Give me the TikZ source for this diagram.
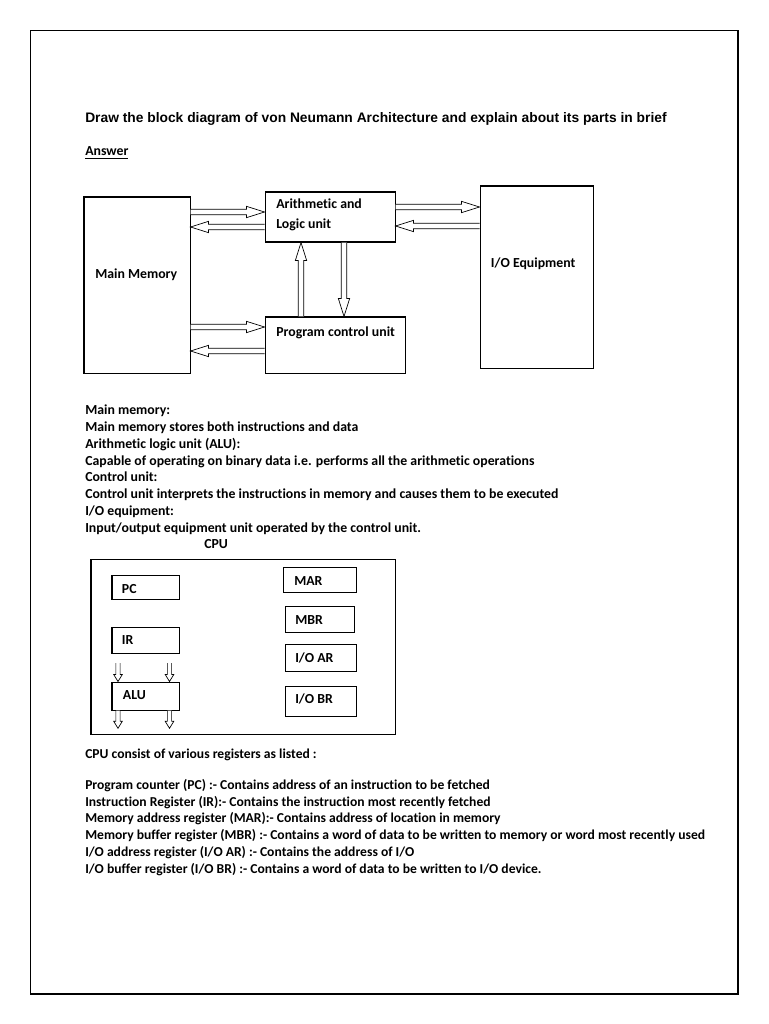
\documentclass[tikz,border=0pt]{standalone}
\usepackage{fontspec}
\setmainfont{Carlito}[Ligatures=NoCommon]
\newfontfamily\arialfont{Liberation Sans}
\usetikzlibrary{calc,fit}

\tikzset{
  box/.style={draw, line width=0.8pt, inner sep=0pt},
  lbl/.style={anchor=base west, inner sep=0pt, font=\bfseries\fontsize{11}{13}\selectfont},
  lbs/.style={anchor=base west, inner sep=0pt, font=\bfseries\fontsize{10.85}{13}\selectfont},
  ttl/.style={anchor=base west, inner sep=0pt, font=\arialfont\bfseries\fontsize{11}{13}\selectfont},
  arrowline/.style={draw, fill=white, line width=0.55pt, line join=miter},
}

\newcommand\blkarrow[5]{%
  \path #1 coordinate (baA) #2 coordinate (baB);
  \coordinate (baH) at ($(baB)!#5!(baA)$);
  \draw[arrowline] ($(baA)!#3!90:(baB)$) -- ($(baH)!#3!90:(baB)$) -- ($(baH)!#4!90:(baB)$) -- (baB) -- ($(baH)!#4!-90:(baB)$) -- ($(baH)!#3!-90:(baB)$) -- ($(baA)!#3!-90:(baB)$);}
\newcommand\bigarrow[2]{\blkarrow{#1}{#2}{2.19pt}{4.5pt}{14.34pt}}
\newcommand\smallarrow[2]{\blkarrow{#1}{#2}{1.71pt}{3.43pt}{5.58pt}}

\begin{document}
\begin{tikzpicture}[x=0.7969pt, y=-0.7969pt]
\useasboundingbox (0,0) rectangle (768,1024);
\node[draw, line width=1pt, inner sep=0pt, fit={(30.5,30.5) (738,994)}] (page) {};

% title
\node[ttl] (title) at (85,123) {Draw the block diagram of von Neumann Architecture and explain about its parts in brief};
\node[lbl] (answer) at (85,156) {\underline{Answer}};

% top diagram boxes
\node[box, fit={(84,197) (190,373)}] (mm) {};
\node[box, fit={(265,192) (395,242)}] (alu) {};
\node[box, fit={(265,317) (405,373)}] (pcu) {};
\node[box, fit={(480,186) (593,368)}] (io) {};

\node[lbl] (mmt) at (95,278) {Main Memory};
\node[lbl] (alut1) at (276,208.3) {Arithmetic and};
\node[lbl] (alut2) at (276,228.3) {Logic unit};
\node[lbl] (pcut) at (276,336) {Program control unit};
\node[lbl] (iot) at (490.7,267.3) {I/O Equipment};

% arrow levels
\coordinate (ya) at (0,212);
\coordinate (yb) at (0,227);
\coordinate (yc) at (0,207);
\coordinate (yd) at (0,226);
\coordinate (ye) at (0,327);
\coordinate (yf) at (0,351);
\coordinate (xa) at (301,0);
\coordinate (xb) at (344,0);

\bigarrow{(mm.east |- ya)}{(alu.west |- ya)}
\bigarrow{(alu.west |- yb)}{(mm.east |- yb)}
\bigarrow{(alu.east |- yc)}{(io.west |- yc)}
\bigarrow{(io.west |- yd)}{(alu.east |- yd)}
\bigarrow{(pcu.north -| xa)}{(alu.south -| xa)}
\bigarrow{(alu.south -| xb)}{(pcu.north -| xb)}
\bigarrow{(mm.east |- ye)}{(pcu.west |- ye)}
\bigarrow{(pcu.west |- yf)}{(mm.east |- yf)}

% explanation text
\node[lbl] (m1) at (85,414.3) {Main memory:};
\node[lbl] (m2) at (85,431.2) {Main memory stores both instructions and data};
\node[lbl] (m3) at (85,448.1) {Arithmetic logic unit (ALU):};
\node[lbl] (m4) at (85,465.0) {Capable of operating on binary data i.e. performs all the arithmetic operations};
\node[lbl] (m5) at (85,481.9) {Control unit:};
\node[lbl] (m6) at (85,498.8) {Control unit interprets the instructions in memory and causes them to be executed};
\node[lbl] (m7) at (85,515.7) {I/O equipment:};
\node[lbl] (m8) at (85,532.6) {Input/output equipment unit operated by the control unit.};

% CPU diagram
\node[lbl] (cput) at (204,548) {CPU};
\node[box, fit={(91,559) (395,734)}] (cpu) {};
\node[box, fit={(112,575) (179,599)}] (pc) {};
\node[box, fit={(112,627) (179,653)}] (ir) {};
\node[box, fit={(112,682) (179,710)}] (calu) {};
\node[box, fit={(283,567) (356,592)}] (mar) {};
\node[box, fit={(285,606) (354,632)}] (mbr) {};
\node[box, fit={(285,644) (356,671)}] (ioar) {};
\node[box, fit={(285,686) (356,716)}] (iobr) {};

\node[lbl] (pct) at (121.7,593.3) {PC};
\node[lbl] (irt) at (121.7,644.3) {IR};
\node[lbl] (calut) at (122.7,699) {ALU};
\node[lbl] (mart) at (294,585.7) {MAR};
\node[lbl] (mbrt) at (295,624) {MBR};
\node[lbl] (ioart) at (295,662.3) {I/O AR};
\node[lbl] (iobrt) at (295,703.3) {I/O BR};

\coordinate (xs1) at (118,0);
\coordinate (xs2) at (169.5,0);
\coordinate (ysa) at (0,663);
\coordinate (ysb) at (0,728.3);
\smallarrow{(xs1 |- ysa)}{(calu.north -| xs1)}
\smallarrow{(xs2 |- ysa)}{(calu.north -| xs2)}
\smallarrow{(calu.south -| xs1)}{(xs1 |- ysb)}
\smallarrow{(calu.south -| xs2)}{(xs2 |- ysb)}

% register list
\node[lbs] (r0) at (85,758.3) {CPU consist of various registers as listed :};
\node[lbs] (r1) at (85,789.3) {Program counter (PC) :- Contains address of an instruction to be fetched};
\node[lbs] (r2) at (85,806) {Instruction Register (IR):- Contains the instruction most recently fetched};
\node[lbs] (r3) at (85,822.7) {Memory address register (MAR):- Contains address of location in memory};
\node[lbs] (r4) at (85,839.4) {Memory buffer register (MBR) :- Contains a word of data to be written to memory or word most recently used};
\node[lbs] (r5) at (85,856.5) {I/O address register (I/O AR) :- Contains the address of I/O};
\node[lbs] (r6) at (85,873.3) {I/O buffer register (I/O BR) :- Contains a word of data to be written to I/O device.};
\end{tikzpicture}
\end{document}
